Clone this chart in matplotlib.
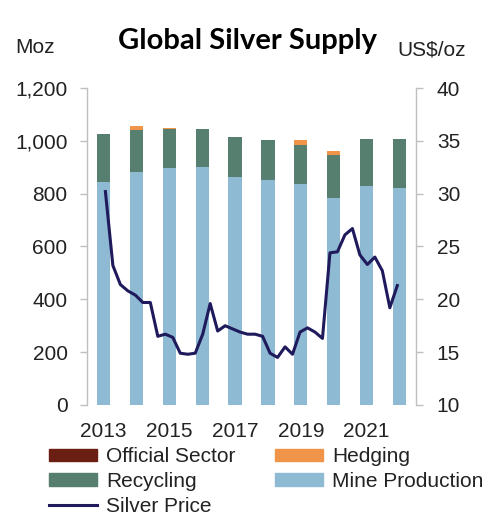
import numpy as np
import matplotlib
matplotlib.use('Agg')
import matplotlib.pyplot as plt
from matplotlib.patches import Patch
from matplotlib.lines import Line2D

plt.rcParams['font.family'] = ['Liberation Sans', 'DejaVu Sans']

# supply data, Moz
years = np.arange(2013, 2023)
mine = [845, 883, 898, 900, 864, 852, 838, 782, 829, 823]
recycling = [180, 158, 148, 146, 149, 150, 146, 165, 177, 183]
hedging = [0, 15, 2, 0, 0, 0, 18, 13, 0, 0]
official = [1, 1, 1, 0, 0, 0, 0, 0, 0, 0]

# quarterly average silver price, US$/oz (Q1 2013 .. Q4 2022)
price = [30.2, 23.2, 21.4, 20.8,
         20.4, 19.7, 19.7, 16.5,
         16.7, 16.4, 14.9, 14.8,
         14.9, 16.7, 19.6, 17.0,
         17.5, 17.2, 16.9, 16.7,
         16.7, 16.5, 14.9, 14.5,
         15.5, 14.8, 16.9, 17.3,
         16.9, 16.3, 24.4, 24.5,
         26.1, 26.7, 24.2, 23.3,
         24.0, 22.7, 19.2, 21.3]

c_mine = '#8FBAD3'
c_rec = '#567F70'
c_hedge = '#F0944A'
c_off = '#6B1F12'
c_price = '#1F1A5C'
c_spine = '#BFBFBF'
c_text = '#222222'
fs = 15

fig = plt.figure(figsize=(4.97, 5.19), dpi=100)
ax = fig.add_axes([0.175, 0.2197, 0.662, 0.6107])
ax2 = ax.twinx()

w = 0.4
b1 = np.array(mine)
b2 = b1 + np.array(recycling)
b3 = b2 + np.array(hedging)
ax.bar(years, mine, w, color=c_mine, zorder=2)
ax.bar(years, recycling, w, bottom=b1, color=c_rec, zorder=2)
ax.bar(years, hedging, w, bottom=b2, color=c_hedge, zorder=2)
ax.bar(years, official, w, bottom=b3, color=c_off, zorder=2)

qx = 2013.06 + np.arange(len(price)) * 0.2275
ax2.plot(qx, price, color=c_price, lw=2.2, solid_joinstyle='round')

ax.set_xlim(2012.5, 2022.5)
ax.set_ylim(0, 1200)
ax2.set_ylim(10, 40)
ax.set_yticks(range(0, 1201, 200))
ax.set_yticklabels([f'{v:,}' for v in range(0, 1201, 200)])
ax2.set_yticks(range(10, 41, 5))
ax.set_xticks([2013, 2015, 2017, 2019, 2021])

for a in (ax, ax2):
    for s in ('top', 'bottom'):
        a.spines[s].set_visible(False)
    for s in ('left', 'right'):
        a.spines[s].set_color(c_spine)
        a.spines[s].set_linewidth(1.0)
ax.spines['right'].set_visible(False)
ax2.spines['left'].set_visible(False)

ax.tick_params(axis='y', length=5, width=1, color=c_spine, pad=9, labelsize=fs, labelcolor=c_text)
ax2.tick_params(axis='y', length=5, width=1, color=c_spine, pad=10, labelsize=fs, labelcolor=c_text)
ax.tick_params(axis='x', length=0, pad=12, labelsize=fs, labelcolor=c_text)

fig.text(0.497, 0.905, 'Global Silver Supply', ha='center', va='baseline',
         fontsize=21, fontweight='bold', family=['Lato', 'DejaVu Sans'])
fig.text(0.03, 0.898, 'Moz', ha='left', va='baseline', fontsize=fs, color=c_text)
fig.text(0.80, 0.894, 'US$/oz', ha='left', va='baseline', fontsize=fs, color=c_text)

handles = [Patch(color=c_off), Patch(color=c_rec),
           Line2D([0], [0], color=c_price, lw=2.2),
           Patch(color=c_hedge), Patch(color=c_mine)]
labels = ['Official Sector', 'Recycling', 'Silver Price', 'Hedging', 'Mine Production']
fig.legend(handles, labels, ncol=2, loc='upper left', bbox_to_anchor=(0.077, 0.158),
           frameon=False, fontsize=fs, handlelength=2.3, handleheight=0.55,
           handletextpad=0.45, columnspacing=1.9, labelspacing=0.27, borderpad=0,
           labelcolor=c_text)

fig.savefig('out.png', dpi=100)
